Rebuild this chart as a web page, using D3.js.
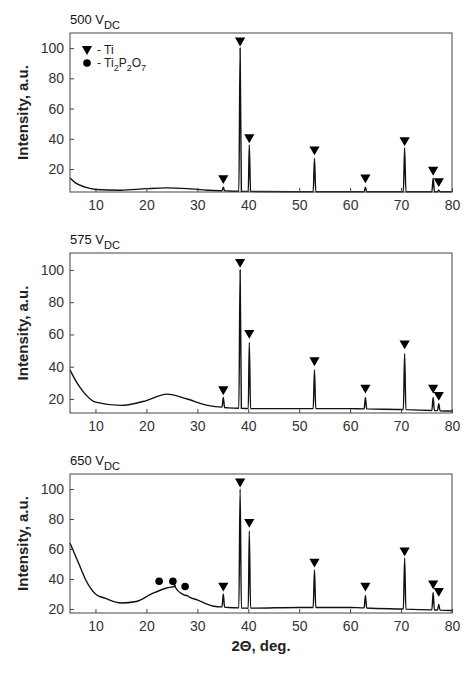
<!DOCTYPE html>
<html><head><meta charset="utf-8"><script src="https://cdn.jsdelivr.net/npm/d3@7"></script>
<style>body{margin:0;background:#fff}</style></head><body><svg id="c" width="474" height="675"></svg>
<script>
const titles=["500","575","650"];
const xTicks=[10,20,30,40,50,60,70,80];
const yTicks=[[20,40,60,80,100],[20,40,60,80,100],[20,40,60,80,100]];
const yDomains=[[4.8,110],[11.3,110.5],[17.3,110]];
const base1=[[5,14],[6,11],[8,8],[10,6.5],[15,6],[20,7],[24,7.5],[28,7],[32,6],[36,5.5],[40,5.2],[50,5],[60,5],[70,5],[80,5]];
const base2=[[5,38],[6,32],[7,27],[8,23],[10,18],[15,16],[20,19],[24,23],[28,20],[32,16],[36,14.5],[40,14],[50,14],[60,14],[70,13.5],[80,12.5]];
const base3=[[5,64],[6,56],[7,48],[8,40],[9,34],[10,30],[12,27],[15,24],[18,25],[21,30],[24,34],[25.5,35],[27,30],[30,26],[33,22],[36,21],[40,20.5],[50,21],[60,21],[70,20],[80,19]];
const peaks1=[[35.1,8],[38.4,100],[40.2,36],[53,27],[63,8],[70.7,34],[76.3,14],[77.4,6]];
const peaks2=[[35.1,21],[38.4,100],[40.2,55],[53,38],[63,21],[70.7,48],[76.3,21],[77.4,17]];
const peaks3=[[35.1,30],[38.4,100],[40.2,72],[53,46],[63,29],[70.7,54],[76.3,31],[77.4,23],[25.5,36.5],[28,29]];
const tri1=[[35.1,14],[38.4,105],[40.2,41],[53,33],[63,14.5],[70.7,39],[76.3,19.5],[77.4,12]];
const tri2=[[35.1,26],[38.4,105],[40.2,61],[53,44],[63,27],[70.7,54.5],[76.3,27],[77.4,22.5]];
const tri3=[[35.1,35.5],[38.4,105],[40.2,78],[53,51.5],[63,35.5],[70.7,59],[76.3,37],[77.4,32]];
const circ3=[[22.5,38.5],[25.2,38.5],[27.6,35]];
const bases=[base1,base2,base3],peaks=[peaks1,peaks2,peaks3],tris=[tri1,tri2,tri3],circs=[[],[],circ3];
const frames=[[33,192],[253,413],[474,613]];
const svg=d3.select("#c");
const x=d3.scaleLinear().domain([5,80]).range([70,452]);
const F="Arial, Liberation Sans, sans-serif";
frames.forEach((fr,i)=>{
  const y=d3.scaleLinear().domain(yDomains[i]).range([fr[1],fr[0]]);
  const bl=d3.scaleLinear().domain(bases[i].map(d=>d[0])).range(bases[i].map(d=>d[1]));
  let pts=bases[i].slice();
  peaks[i].forEach(([px,h])=>{pts.push([px-0.25,bl(px-0.25)],[px,h],[px+0.25,bl(px+0.25)]);});
  pts.sort((a,b)=>a[0]-b[0]);
  const g=svg.append("g");
  g.append("path").attr("d",d3.line().curve(d3.curveMonotoneX).x(d=>x(d[0])).y(d=>y(d[1]))(pts)).attr("fill","none").attr("stroke","#111").attr("stroke-width",1.4);
  g.append("rect").attr("x",70).attr("y",fr[0]).attr("width",382).attr("height",fr[1]-fr[0]).attr("fill","none").attr("stroke","#444").attr("stroke-width",1);
  const xa=g.append("g").attr("transform",`translate(0,${fr[1]})`).call(d3.axisBottom(x).tickValues(xTicks).tickSize(-4).tickPadding(8));
  const ya=g.append("g").attr("transform","translate(70,0)").call(d3.axisLeft(y).tickValues(yTicks[i]).tickSize(-4).tickPadding(6));
  [xa,ya].forEach(a=>{a.select(".domain").remove();a.selectAll("text").attr("font-family",F).attr("font-size",14).attr("fill","#333");a.selectAll("line").attr("stroke","#444");});
  g.selectAll(".t").data(tris[i]).join("path").attr("d",d3.symbol(d3.symbolTriangle,45)()).attr("transform",d=>`translate(${x(d[0])},${y(d[1])}) rotate(180)`).attr("fill","#000");
  g.selectAll(".cc").data(circs[i]).join("circle").attr("cx",d=>x(d[0])).attr("cy",d=>y(d[1])).attr("r",3.8).attr("fill","#000");
  const t=g.append("text").attr("x",70).attr("y",fr[0]-9).attr("font-family",F).attr("font-size",13).attr("fill","#111");
  t.append("tspan").text(titles[i]+" V");
  t.append("tspan").attr("dy",5).attr("font-size",11).text("DC");
  g.append("text").attr("transform",`translate(28,${(fr[0]+fr[1])/2}) rotate(-90)`).attr("text-anchor","middle").attr("font-family",F).attr("font-weight","bold").attr("font-size",15).attr("fill","#222").text("Intensity, a.u.");
});
svg.append("path").attr("d",d3.symbol(d3.symbolTriangle,45)()).attr("transform","translate(87,49) rotate(180)");
svg.append("circle").attr("cx",87).attr("cy",63).attr("r",3.8);
svg.append("text").attr("x",97).attr("y",54).attr("font-family",F).attr("font-size",12).attr("fill","#222").text("- Ti");
const lt=svg.append("text").attr("x",97).attr("y",67).attr("font-family",F).attr("font-size",12).attr("fill","#222");
[["- Ti",0],["2",4],["P",-4],["2",4],["O",-4],["7",4]].forEach(([s,dy],k)=>lt.append("tspan").attr("dy",dy).attr("font-size",k%2?9:12).text(s));
svg.append("text").attr("x",261).attr("y",651).attr("text-anchor","middle").attr("font-family",F).attr("font-weight","bold").attr("font-size",15).attr("fill","#222").text("2Θ, deg.");
</script></body></html>
